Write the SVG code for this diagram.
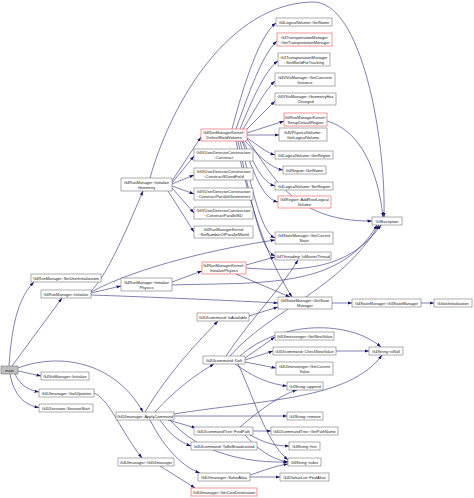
<svg xmlns="http://www.w3.org/2000/svg" width="474" height="498" viewBox="0 0 474 498">
<defs>
<marker id="a" viewBox="0 0 10 7" refX="10" refY="3.5" markerWidth="4.5" markerHeight="3.4" markerUnits="userSpaceOnUse" orient="auto">
<path d="M0,0 L10,3.5 L0,7 z" fill="#191970"/>
</marker>
<style>
.n rect{fill:#fff;stroke:#777;stroke-width:0.6}
.r rect{stroke:#f05050}
.g rect{fill:#bfbfbf}
text{font-family:"Liberation Sans",Arial,sans-serif;font-size:4px;text-anchor:middle;fill:#222}
#edges path{fill:none;stroke:#191970;stroke-width:0.55;marker-end:url(#a)}
</style>
</defs>
<rect width="474" height="498" fill="#fff"/>
<g id="edges">
<path d="M9,366 C12,320 20,296 34,282"/>
<path d="M12,366 L62,298"/>
<path d="M18,371 L41,376"/>
<path d="M15,374 C20,385 28,390 39,392"/>
<path d="M10,374 C14,396 25,405 39,407.5"/>
<path d="M18,368 C60,352 115,362 143,412"/>
<path d="M91,291 C100,282 112,265 143,191"/>
<path d="M91,293 L121,286"/>
<path d="M91,292 C140,266 220,248 275,240"/>
<path d="M91,295 C150,297 220,300 278,303"/>
<path d="M172,181 L201,137"/>
<path d="M172,183 L194,156"/>
<path d="M172,184 L194,175"/>
<path d="M172,186 L194,194"/>
<path d="M172,188 L194,213"/>
<path d="M168,191 L194,232"/>
<path d="M150,178 C172,100 230,4 312,2 C362,0 386,140 384,217"/>
<path d="M232,129 C245,80 260,35 276,23"/>
<path d="M236,129 C250,90 262,55 277,41"/>
<path d="M240,129 C252,100 265,70 278,61"/>
<path d="M243,129 C255,110 265,90 275,81"/>
<path d="M246,130 L275,101"/>
<path d="M247,133 L284,121"/>
<path d="M247,135 L279,135"/>
<path d="M247,138 C258,145 265,152 275,155"/>
<path d="M245,141 C258,155 270,168 283,170"/>
<path d="M243,141 C255,165 262,182 275,186"/>
<path d="M242,141 C255,175 262,198 278,202"/>
<path d="M240,141 C255,200 262,232 275,238"/>
<path d="M238,141 C255,220 262,250 275,256"/>
<path d="M236,141 C255,230 275,270 292,297"/>
<path d="M247,139 C270,170 290,222 372,221"/>
<path d="M327,121 C360,130 378,170 383,217"/>
<path d="M172,282 L202,271"/>
<path d="M172,285 C260,282 340,290 377,225"/>
<path d="M246,265 L275,257"/>
<path d="M236,274 L290,297"/>
<path d="M246,268 C300,272 350,270 381,225"/>
<path d="M332,303 L352,303"/>
<path d="M421,303 L434,303"/>
<path d="M249,316 L278,307"/>
<path d="M145,412 C170,370 200,340 218,321"/>
<path d="M155,412 C175,390 195,375 214,364"/>
<path d="M174,416 L287,416"/>
<path d="M168,420 L196,428"/>
<path d="M160,420 C170,435 180,442 191,446"/>
<path d="M170,420 C200,455 250,463 288,462"/>
<path d="M150,420 C165,450 185,468 200,473"/>
<path d="M174,414 C260,400 350,400 382,355"/>
<path d="M160,466 L195,488"/>
<path d="M94,393 C110,400 120,430 142,458"/>
<path d="M245,358 L275,337"/>
<path d="M245,360 L273,351"/>
<path d="M245,362 L276,368"/>
<path d="M240,356 C280,320 350,320 381,347"/>
<path d="M226,356 C250,320 280,290 298,260"/>
<path d="M230,356 C270,310 340,290 379,225"/>
<path d="M235,364 C255,378 270,384 287,386"/>
<path d="M238,364 C255,400 265,440 288,460"/>
<path d="M336,351 L369,351"/>
<path d="M253,431 L271,431"/>
<path d="M250,435 C265,443 275,446 289,446"/>
<path d="M245,435 C260,452 275,460 288,462"/>
<path d="M240,427 C260,410 280,395 297,390"/>
<path d="M250,477 L280,477"/>
<path d="M250,475 C265,470 275,466 288,464"/>
</g>
<g id="main" class="n g"><rect x="1" y="366" width="17" height="8"/><text x="9.5" y="371.5">main</text></g>
<g id="n_setuserinit" class="n"><rect x="31" y="274" width="70" height="8"/><text x="66" y="279.5">G4RunManager::SetUserInitialization</text></g>
<g id="n_rminit" class="n"><rect x="41" y="290" width="50" height="8"/><text x="66" y="295.5">G4RunManager::Initialize</text></g>
<g id="n_visinit" class="n"><rect x="41" y="372" width="48" height="8"/><text x="65" y="377.5">G4VisManager::Initialize</text></g>
<g id="n_getuipointer" class="n"><rect x="39" y="389" width="55" height="8"/><text x="66.5" y="394.5">G4UImanager::GetUIpointer</text></g>
<g id="n_sessionstart" class="n"><rect x="39" y="404" width="54" height="8"/><text x="66" y="409.5">G4UIsession::SessionStart</text></g>
<g id="n_initgeom" class="n"><rect x="121" y="178" width="51" height="13"/><text x="146.5" y="183.5">G4RunManager::Initialize</text><text x="146.5" y="188.5">Geometry</text></g>
<g id="n_initphys" class="n"><rect x="121" y="278" width="51" height="13"/><text x="146.5" y="283.5">G4RunManager::Initialize</text><text x="146.5" y="288.5">Physics</text></g>
<g id="n_isavailable" class="n"><rect x="197" y="313" width="52" height="8"/><text x="223" y="318.5">G4UIcommand::IsAvailable</text></g>
<g id="n_doit" class="n"><rect x="203" y="356" width="42" height="8"/><text x="224" y="361.5">G4UIcommand::DoIt</text></g>
<g id="n_applycommand" class="n"><rect x="116" y="412" width="58" height="8"/><text x="145" y="417.5">G4UImanager::ApplyCommand</text></g>
<g id="n_uimanager" class="n"><rect x="118" y="458" width="56" height="8"/><text x="146" y="463.5">G4UImanager::G4UImanager</text></g>
<g id="n_defineworld" class="n r"><rect x="201" y="129" width="46" height="12"/><text x="224" y="134">G4RunManagerKernel::</text><text x="224" y="139">DefineWorldVolume</text></g>
<g id="n_construct" class="n"><rect x="194" y="149" width="59" height="12"/><text x="223.5" y="154">G4VUserDetectorConstruction</text><text x="223.5" y="159">::Construct</text></g>
<g id="n_sdandfield" class="n"><rect x="194" y="168" width="59" height="12"/><text x="223.5" y="173">G4VUserDetectorConstruction</text><text x="223.5" y="178">::ConstructSDandField</text></g>
<g id="n_pargeom" class="n"><rect x="194" y="188" width="59" height="12"/><text x="223.5" y="193">G4VUserDetectorConstruction</text><text x="223.5" y="198">::ConstructParallelGeometries</text></g>
<g id="n_parsd" class="n"><rect x="194" y="207" width="59" height="12"/><text x="223.5" y="212">G4VUserDetectorConstruction</text><text x="223.5" y="217">::ConstructParallelSD</text></g>
<g id="n_setnumpar" class="n"><rect x="194" y="226" width="59" height="12"/><text x="223.5" y="231">G4RunManagerKernel</text><text x="223.5" y="236">::SetNumberOfParallelWorld</text></g>
<g id="n_kinitphys" class="n r"><rect x="202" y="262" width="44" height="12"/><text x="224" y="267">G4RunManagerKernel::</text><text x="224" y="272">InitializePhysics</text></g>
<g id="n_coutdest" class="n r"><rect x="191" y="488" width="66" height="8"/><text x="224" y="493.5">G4UImanager::GetCoutDestination</text></g>
<g id="n_findpath" class="n"><rect x="194" y="427" width="59" height="8"/><text x="223.5" y="432.5">G4UIcommandTree::FindPath</text></g>
<g id="n_tobebroad" class="n"><rect x="191" y="442" width="66" height="8"/><text x="224" y="447.5">G4UIcommand::ToBeBroadcasted</text></g>
<g id="n_solvealias" class="n"><rect x="198" y="473" width="52" height="8"/><text x="224" y="478.5">G4UImanager::SolveAlias</text></g>
<g id="n_lvgetname" class="n"><rect x="276" y="18" width="56" height="8"/><text x="304" y="23.5">G4LogicalVolume::GetName</text></g>
<g id="n_gettransp" class="n r"><rect x="277" y="33" width="55" height="13"/><text x="304.5" y="38.5">G4TransportationManager</text><text x="304.5" y="43.5">::GetTransportationManager</text></g>
<g id="n_setworld" class="n"><rect x="278" y="53" width="52" height="13"/><text x="304" y="58.5">G4TransportationManager</text><text x="304" y="63.5">::SetWorldForTracking</text></g>
<g id="n_getconcrete" class="n"><rect x="275" y="73" width="60" height="13"/><text x="305" y="78.5">G4VVisManager::GetConcrete</text><text x="305" y="83.5">Instance</text></g>
<g id="n_geomchanged" class="n"><rect x="275" y="93" width="61" height="12"/><text x="305.5" y="98">G4VVisManager::GeometryHas</text><text x="305.5" y="103">Changed</text></g>
<g id="n_setupregion" class="n r"><rect x="284" y="113" width="43" height="13"/><text x="305.5" y="118.5">G4RunManagerKernel::</text><text x="305.5" y="123.5">SetupDefaultRegion</text></g>
<g id="n_getlv" class="n"><rect x="279" y="128" width="48" height="13"/><text x="303" y="133.5">G4VPhysicalVolume::</text><text x="303" y="138.5">GetLogicalVolume</text></g>
<g id="n_getregion" class="n"><rect x="275" y="151" width="58" height="8"/><text x="304" y="156.5">G4LogicalVolume::GetRegion</text></g>
<g id="n_regiongetname" class="n"><rect x="283" y="166" width="43" height="8"/><text x="304.5" y="171.5">G4Region::GetName</text></g>
<g id="n_setregion" class="n"><rect x="275" y="182" width="58" height="8"/><text x="304" y="187.5">G4LogicalVolume::SetRegion</text></g>
<g id="n_addroot" class="n r"><rect x="278" y="196" width="53" height="12"/><text x="304.5" y="201">G4Region::AddRootLogical</text><text x="304.5" y="206">Volume</text></g>
<g id="n_getcurstate" class="n"><rect x="275" y="232" width="58" height="12"/><text x="304" y="237">G4StateManager::GetCurrent</text><text x="304" y="242">State</text></g>
<g id="n_ismaster" class="n"><rect x="275" y="252" width="56" height="8"/><text x="303" y="257.5">G4Threading::IsMasterThread</text></g>
<g id="n_getstatemgr" class="n"><rect x="278" y="297" width="54" height="12"/><text x="305" y="302">G4StateManager::GetState</text><text x="305" y="307">Manager</text></g>
<g id="n_getnewvalue" class="n"><rect x="275" y="332" width="59" height="8"/><text x="304.5" y="337.5">G4UImessenger::GetNewValue</text></g>
<g id="n_checknewvalue" class="n"><rect x="273" y="347" width="63" height="8"/><text x="304.5" y="352.5">G4UIcommand::CheckNewValue</text></g>
<g id="n_getcurvalue" class="n"><rect x="276" y="362" width="57" height="13"/><text x="304.5" y="367.5">G4UImessenger::GetCurrent</text><text x="304.5" y="372.5">Value</text></g>
<g id="n_append" class="n"><rect x="287" y="382" width="36" height="8"/><text x="305" y="387.5">G4String::append</text></g>
<g id="n_remove" class="n"><rect x="287" y="412" width="36" height="8"/><text x="305" y="417.5">G4String::remove</text></g>
<g id="n_getpathname" class="n"><rect x="271" y="427" width="67" height="8"/><text x="304.5" y="432.5">G4UIcommandTree::GetPathName</text></g>
<g id="n_first" class="n"><rect x="289" y="442" width="31" height="8"/><text x="304.5" y="447.5">G4String::first</text></g>
<g id="n_index" class="n"><rect x="288" y="458" width="33" height="8"/><text x="304.5" y="463.5">G4String::index</text></g>
<g id="n_findalias" class="n"><rect x="280" y="473" width="49" height="8"/><text x="304.5" y="478.5">G4UIaliasList::FindAlias</text></g>
<g id="n_exception" class="n"><rect x="372" y="217" width="30" height="8"/><text x="387" y="222.5">G4Exception</text></g>
<g id="n_statemgrctor" class="n"><rect x="352" y="299" width="69" height="8"/><text x="386.5" y="304.5">G4StateManager::G4StateManager</text></g>
<g id="n_iosinit" class="n"><rect x="434" y="299" width="38" height="8"/><text x="453" y="304.5">G4iosInitialization</text></g>
<g id="n_isnull" class="n"><rect x="369" y="347" width="34" height="8"/><text x="386" y="352.5">G4String::isNull</text></g>
</svg>
